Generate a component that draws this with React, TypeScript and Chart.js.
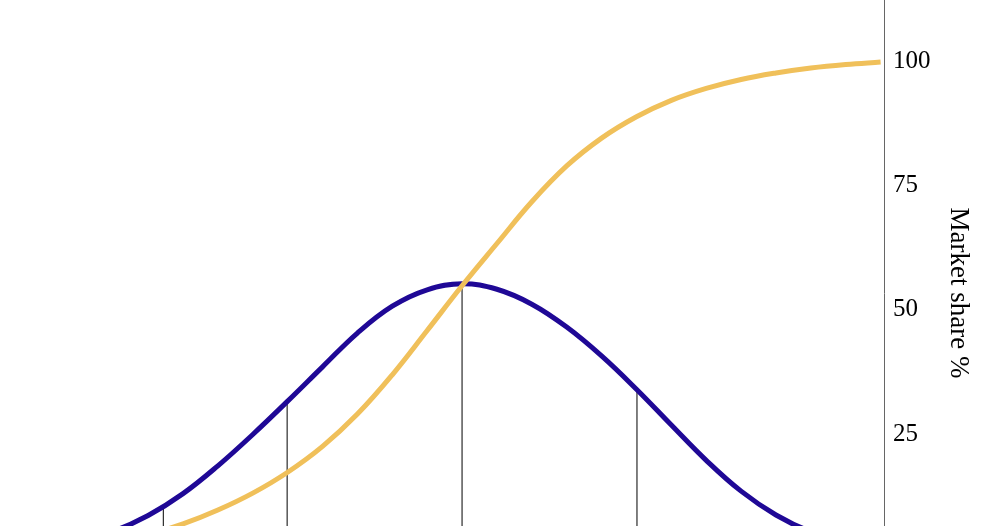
import React, { useEffect, useRef } from "react";
import { Chart, registerables } from "chart.js";

Chart.register(...registerables);

// Position along the adoption timeline, in standard deviations from the mean
const timeX = [-2.4, -2.2, -2.0, -1.8, -1.6, -1.4, -1.2, -1.0, -0.8, -0.6, -0.4, -0.2, 0, 0.2, 0.4, 0.6, 0.8, 1.0, 1.2, 1.4, 1.6, 1.8, 2.0, 2.2, 2.4];

// Adopters (bell curve)
const adopterPct = [1.9, 3.3, 5.4, 8.6, 13.0, 18.6, 24.9, 31.6, 38.5, 45.3, 50.7, 54.0, 55.2, 54.1, 51.1, 46.5, 40.7, 34.0, 26.8, 19.7, 13.5, 8.7, 5.3, 3.3, 2.1];

// Cumulative market share
const sharePct = [1.2, 2.0, 3.1, 4.7, 6.9, 9.7, 13.1, 17.3, 22.5, 29.0, 36.9, 45.8, 54.8, 63.3, 71.7, 78.9, 84.5, 88.8, 92.1, 94.5, 96.3, 97.6, 98.6, 99.3, 99.8];

// Vertical dividers between adopter groups
const dividerX = [-1.713, -1.003, 0, 1.003];
const dividerTop = [10.0, 31.6, 55.2, 34.0];

// Right axis ticks
const shareTicks = [0, 25, 50, 75, 100];

const FONT = "'Liberation Serif', 'Times New Roman', serif";

export default function App() {
  const ref = useRef<HTMLCanvasElement | null>(null);

  useEffect(() => {
    if (!ref.current) return;
    const dividerSets = dividerX.map((x, i) => ({
      type: "line" as const,
      data: [
        { x, y: 0 },
        { x, y: dividerTop[i] },
      ],
      borderColor: "#000",
      borderWidth: 1,
      pointRadius: 0,
      order: 2,
      yAxisID: "y",
    }));
    const chart = new Chart(ref.current, {
      type: "line",
      data: {
        datasets: [
          {
            label: "Market share %",
            data: timeX.map((x, i) => ({ x, y: sharePct[i] })),
            borderColor: "#f0c05a",
            borderWidth: 5,
            pointRadius: 0,
            tension: 0.4,
            order: 0,
            yAxisID: "y",
          },
          {
            label: "Adopters",
            data: timeX.map((x, i) => ({ x, y: adopterPct[i] })),
            borderColor: "#1f0896",
            borderWidth: 5,
            pointRadius: 0,
            tension: 0.4,
            order: 1,
            yAxisID: "y",
          },
          ...dividerSets,
        ],
      },
      options: {
        animation: false,
        responsive: true,
        maintainAspectRatio: false,
        layout: { padding: { left: 32, right: 16, top: 0, bottom: 0 } },
        plugins: { legend: { display: false }, tooltip: { enabled: false } },
        scales: {
          x: {
            type: "linear",
            min: -2.42,
            max: 2.42,
            display: false,
          },
          y: {
            type: "linear",
            position: "right",
            min: -10,
            max: 116.7,
            grid: { display: false, drawTicks: false },
            border: { display: true, color: "#666", width: 1 },
            ticks: {
              stepSize: 25,
              padding: 9,
              color: "#000",
              font: { family: FONT, size: 25 },
              callback: (v: any) => (shareTicks.includes(Number(v)) ? String(v) : null),
            },
            title: {
              display: true,
              text: "Market share %",
              color: "#000",
              font: { family: FONT, size: 27 },
              padding: { top: 4, bottom: 2 },
            },
          },
        },
      },
    });
    return () => chart.destroy();
  }, []);

  return (
    <div style={{ position: "absolute", left: 8, top: -46, width: 986, height: 678 }}>
      <canvas ref={ref} />
    </div>
  );
}
